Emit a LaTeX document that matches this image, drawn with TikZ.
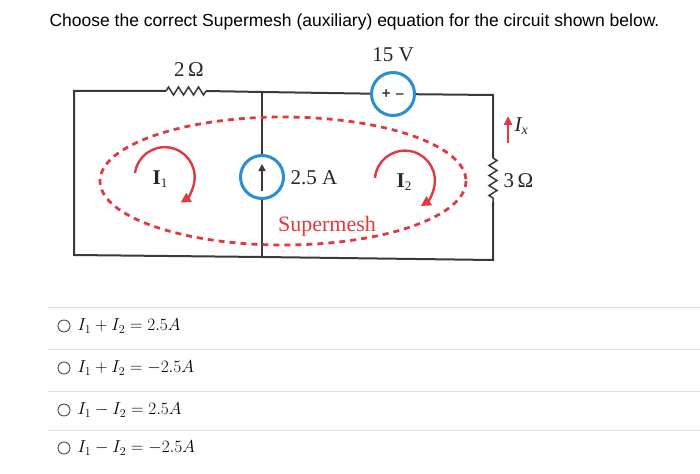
\documentclass[tikz,border=0pt]{standalone}
\usepackage{fontspec}
\setmainfont{Liberation Sans}
\newfontfamily\ser{Liberation Serif}
\usetikzlibrary{decorations.pathmorphing,arrows.meta}
\definecolor{bl}{HTML}{2A8FD0}
\definecolor{rd}{HTML}{E03A3E}
\definecolor{wr}{HTML}{3A3A3A}
\tikzset{wire/.style={wr,line width=2pt},
 src/.style={circle,minimum width=46pt,minimum height=46pt,inner sep=0pt},
 ring/.style={draw=bl,line width=3pt,fill=white},
 resz/.style={wr,line width=1.5pt,decorate,decoration={zigzag,segment length=10pt,amplitude=4pt}},
 lbl/.style={font=\ser\fontsize{21}{22}\selectfont,text=black!85},
 opt/.style={circle,draw=black!70,line width=0.9pt,minimum size=12pt,inner sep=0pt},
 mesh/.style={rd,line width=2.4pt,-{Triangle[length=10pt,width=10pt]}}}
\begin{document}
\begin{tikzpicture}[x=1pt,y=-1pt]
\useasboundingbox[fill=white] (0,0) rectangle (700,473);
\node[anchor=west,font=\fontsize{17.5}{20}\selectfont] (t) at (46,22) {Choose the correct Supermesh (auxiliary) equation for the circuit shown below.};
\coordinate (tl) at (74,91); \coordinate (tm) at (262,92); \coordinate (tr) at (493,95);
\coordinate (bl) at (74,255); \coordinate (bm) at (262,257); \coordinate (br) at (493,260);
\coordinate (r1a) at (166,91); \coordinate (r1b) at (206,91);
\coordinate (r2a) at (493,158); \coordinate (r2b) at (493,202);
\node[src] (vs) at (393,94) {};
\node[src] (cs) at (262,177) {};
\draw[wire] (r1a) -- (tl) -- (bl) -- (bm) -- (br) -- (r2b);
\draw[wire] (r1b) -- (tm) -- (vs);
\draw[wire] (vs) -- (tr) -- (r2a);
\draw[wire] (tm) -- (cs) -- (bm);
\draw[resz] (r1a) -- (r1b);
\draw[resz] (r2a) -- (r2b);
\draw[ring] (vs.center) circle (21.5);
\draw[ring] (cs.center) circle (21.5);
\node[font=\fontsize{15}{15}\selectfont\bfseries,text=black!75] at (vs) {+\,\,\textendash};
\draw[wr,line width=1.6pt,-{Triangle[length=7pt,width=7pt]}] (262,191) -- (262,164);
\node[lbl] (l2) at (189,70) {2\,Ω};
\node[lbl] (l15) at (393,55) {15 V};
\node[lbl,anchor=west] (l25) at (287,178) {2.5 A};
\node[lbl,anchor=west] (l3) at (500,181) {3\,Ω};
\node[lbl,rd,font=\ser\fontsize{22}{23}\selectfont] (sm) at (327,226) {Supermesh};
\node[lbl] (i1) at (160,179) {{\bfseries I}\raisebox{-0.25ex}{\fontsize{13}{13}\selectfont 1}};
\node[lbl] (i2) at (404,182) {{\bfseries I}\raisebox{-0.25ex}{\fontsize{13}{13}\selectfont 2}};
\node[lbl,anchor=west] (ix) at (511,126) {\itshape I\raisebox{-0.3ex}{\fontsize{14}{14}\selectfont x}};
\draw[rd,line width=2.6pt,-{Triangle[length=9pt,width=8pt]}] (508,143) -- (508,116);
\draw[rd,dashed,dash pattern=on 6pt off 5pt,line width=2.8pt] (283,181) ellipse (183 and 64);
\draw[mesh] (135,173) arc (188:418:30);
\draw[mesh] (375,178) arc (185:418:30);
\foreach \y/\t in {326/{I_1+I_2=2.5A},368/{I_1+I_2=-2.5A},410/{I_1-I_2=2.5A},448/{I_1-I_2=-2.5A}}{
 \node[opt] at (64,\y) {};
 \node[anchor=west,font=\fontsize{16.5}{18}\selectfont] at (74,\y) {$\t$};}
\foreach \y in {307,349,391,430} \draw[black!12,line width=0.8pt] (48,\y) -- (700,\y);
\end{tikzpicture}
\end{document}
